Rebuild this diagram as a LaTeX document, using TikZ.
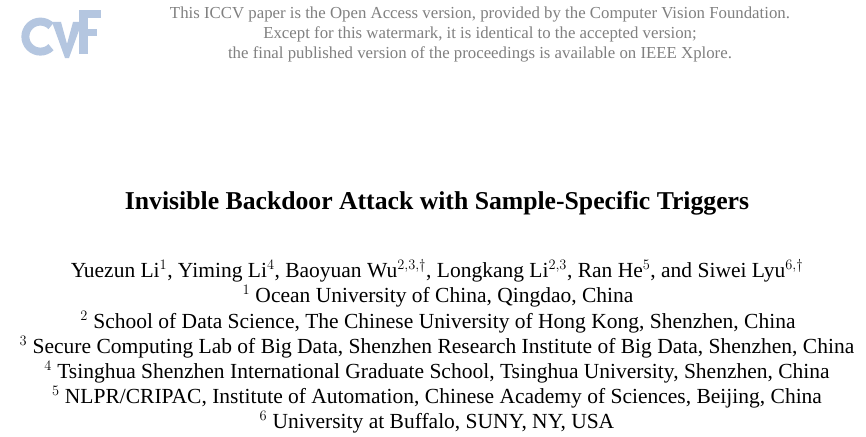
\documentclass[tikz,border=0pt]{standalone}
\usepackage{fontspec}
\setmainfont{Liberation Serif}
\definecolor{logo}{HTML}{B4C6E0}
\definecolor{wm}{HTML}{808080}
\begin{document}
\begin{tikzpicture}[x=1pt,y=-1pt,
  wmk/.style={text=wm,font=\fontsize{16.8}{20}\selectfont,anchor=center,inner sep=0},
  aff/.style={font=\fontsize{21.5}{25}\selectfont,anchor=center,inner sep=0}]
\useasboundingbox[fill=white] (0,0) rectangle (866,436);
% logo
\draw[logo,line width=8pt] (51,26) arc[start angle=-45,end angle=-315,radius=15];
\fill[logo] (52,22) -- (61,22) -- (67,44) -- (73,22) -- (82,22) -- (69,58) -- (65,58) -- cycle;
\fill[logo] (79,10) rectangle (88,54);
\fill[logo] (79,10) rectangle (101,18);
\fill[logo] (79,29) rectangle (97,36);
\node[wmk] (w1) at (480,14) {This ICCV paper is the Open Access version, provided by the Computer Vision Foundation.};
\node[wmk] (w2) at (480,34) {Except for this watermark, it is identical to the accepted version;};
\node[wmk] (w3) at (480,54) {the final published version of the proceedings is available on IEEE Xplore.};
\node[font=\bfseries\fontsize{25.7}{30}\selectfont,inner sep=0] (t) at (437,203) {Invisible Backdoor Attack with Sample-Specific Triggers};
\node[aff] (a) at (437,271) {Yuezun Li$^1$, Yiming Li$^4$, Baoyuan Wu$^{2,3,\dagger}$, Longkang Li$^{2,3}$, Ran He$^5$, and Siwei Lyu$^{6,\dagger}$};
\node[aff] (f1) at (438,296) {$^1$ Ocean University of China, Qingdao, China};
\node[aff] (f2) at (438,322) {$^2$ School of Data Science, The Chinese University of Hong Kong, Shenzhen, China};
\node[aff] (f3) at (437,347) {$^3$ Secure Computing Lab of Big Data, Shenzhen Research Institute of Big Data, Shenzhen, China};
\node[aff] (f4) at (437,372) {$^4$ Tsinghua Shenzhen International Graduate School, Tsinghua University, Shenzhen, China};
\node[aff] (f5) at (437,397) {$^5$ NLPR/CRIPAC, Institute of Automation, Chinese Academy of Sciences, Beijing, China};
\node[aff] (f6) at (437,422) {$^6$ University at Buffalo, SUNY, NY, USA};
\end{tikzpicture}
\end{document}
